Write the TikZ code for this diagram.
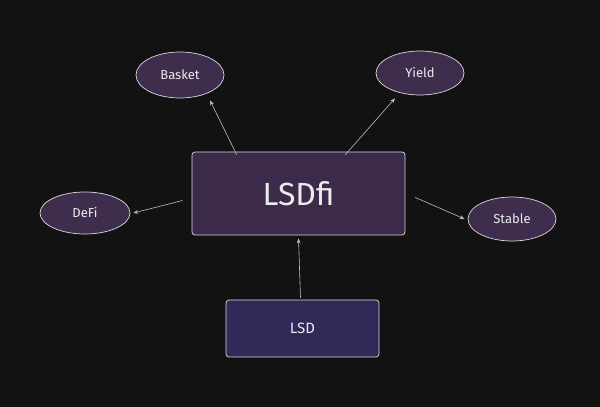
\documentclass[tikz,border=0pt]{standalone}
\usepackage{fontspec}
\setmainfont{Fira Sans}
\usetikzlibrary{shapes.geometric,arrows.meta,patterns}
\begin{document}
\begin{tikzpicture}[x=1pt,y=1pt,
  box/.style={draw=white!85!black,line width=0.7pt,rounded corners=3pt,text=white!92!black},
  oval/.style={ellipse,draw=white!85!black,line width=0.7pt,fill=oval,text=white!92!black,inner sep=0pt,font=\fontsize{13}{15}\selectfont},
  link/.style={-{Stealth[length=5pt]},draw=white!75!black,line width=0.6pt}]
\definecolor{bg}{HTML}{121212}
\definecolor{fic}{HTML}{3B2A4A}
\definecolor{lsdc}{HTML}{2F2A58}
\definecolor{oval}{HTML}{3F2D4E}
\fill[bg] (0,0) rectangle (600,407);
\useasboundingbox (0,0) rectangle (600,407);
\node[box,fill=fic,minimum width=213pt,minimum height=83pt,font=\fontsize{32}{36}\selectfont] (fi) at (298.5,213.5) {LSDfi};
\node[box,fill=lsdc,minimum width=153pt,minimum height=57pt,font=\fontsize{15}{18}\selectfont] (lsd) at (302.5,78.5) {LSD};
\node[oval,minimum width=88pt,minimum height=46pt] (basket) at (180,332) {Basket};
\node[oval,minimum width=88pt,minimum height=44pt] (yield) at (420,334) {Yield};
\node[oval,minimum width=90pt,minimum height=42pt] (defi) at (85,194) {DeFi};
\node[oval,minimum width=88pt,minimum height=44pt] (stable) at (512,188) {Stable};
\draw[link] (lsd.north) ++(-2,2) -- ([yshift=-3pt]fi.south);
\draw[link] ([shift={(45,-3)}]fi.north west) -- ([shift={(30,-2)}]basket.south);
\draw[link] ([shift={(-60,-3)}]fi.north east) -- ([shift={(-25,-3)}]yield.south);
\draw[link] ([shift={(-9,-7)}]fi.west) -- ([xshift=3pt]defi.east);
\draw[link] ([shift={(10,-4)}]fi.east) -- ([xshift=-3pt]stable.west);
\end{tikzpicture}
\end{document}
